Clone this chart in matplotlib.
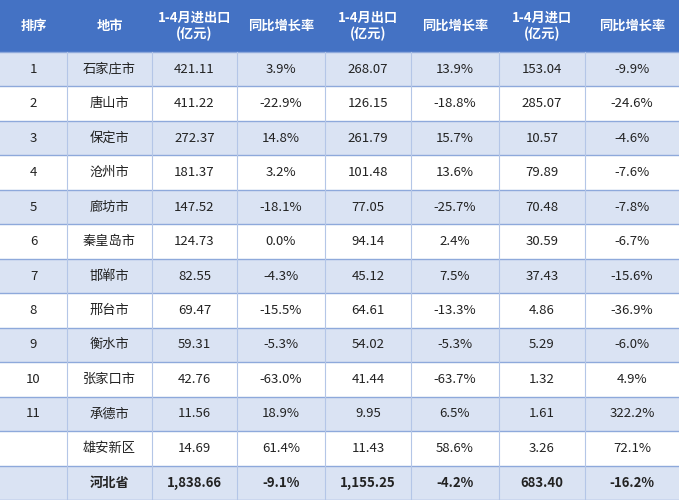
import matplotlib
matplotlib.use("Agg")
import matplotlib.pyplot as plt
from matplotlib.patches import Rectangle

plt.rcParams['font.family'] = ['Noto Sans CJK SC', 'DejaVu Sans']

headers = ["排序", "地市", "1-4月进出口\n(亿元)", "同比增长率", "1-4月出口\n(亿元)",
           "同比增长率", "1-4月进口\n(亿元)", "同比增长率"]
ranks = ["1", "2", "3", "4", "5", "6", "7", "8", "9", "10", "11", "", ""]
cities = ["石家庄市", "唐山市", "保定市", "沧州市", "廊坊市", "秦皇岛市", "邯郸市", "邢台市",
          "衡水市", "张家口市", "承德市", "雄安新区", "河北省"]
total = ["421.11", "411.22", "272.37", "181.37", "147.52", "124.73", "82.55", "69.47",
         "59.31", "42.76", "11.56", "14.69", "1,838.66"]
total_yoy = ["3.9%", "-22.9%", "14.8%", "3.2%", "-18.1%", "0.0%", "-4.3%", "-15.5%",
             "-5.3%", "-63.0%", "18.9%", "61.4%", "-9.1%"]
export = ["268.07", "126.15", "261.79", "101.48", "77.05", "94.14", "45.12", "64.61",
          "54.02", "41.44", "9.95", "11.43", "1,155.25"]
export_yoy = ["13.9%", "-18.8%", "15.7%", "13.6%", "-25.7%", "2.4%", "7.5%", "-13.3%",
              "-5.3%", "-63.7%", "6.5%", "58.6%", "-4.2%"]
imports = ["153.04", "285.07", "10.57", "79.89", "70.48", "30.59", "37.43", "4.86",
           "5.29", "1.32", "1.61", "3.26", "683.40"]
import_yoy = ["-9.9%", "-24.6%", "-4.6%", "-7.6%", "-7.8%", "-6.7%", "-15.6%", "-36.9%",
              "-6.0%", "4.9%", "322.2%", "72.1%", "-16.2%"]

columns = [ranks, cities, total, total_yoy, export, export_yoy, imports, import_yoy]
xs = [0, 67, 152, 237, 325, 411, 499, 585, 679]
W, H = 679, 500
head_h = 52
row_h = (H - head_h) / len(ranks)

fig = plt.figure(figsize=(W / 100, H / 100), dpi=100)
ax = fig.add_axes([0, 0, 1, 1])
ax.set_xlim(0, W)
ax.set_ylim(H, 0)
ax.axis("off")

ax.add_patch(Rectangle((0, 0), W, head_h, color="#4472C4", lw=0))
for j, h in enumerate(headers):
    ax.text((xs[j] + xs[j + 1]) / 2, head_h / 2, h, ha="center", va="center",
            color="white", fontsize=9.5, fontweight="bold", linespacing=1.2)

n = len(ranks)
for i in range(n):
    y0 = head_h + i * row_h
    bg = "#DAE3F3" if i % 2 == 0 else "white"
    ax.add_patch(Rectangle((0, y0), W, row_h, color=bg, lw=0))
    ax.plot([0, W], [y0, y0], color="#8EA9DB", lw=1)
    italic = cities[i] == "雄安新区"
    bold = cities[i] == "河北省"
    for j, col in enumerate(columns):
        ax.text((xs[j] + xs[j + 1]) / 2, y0 + row_h / 2, col[i], ha="center", va="center",
                fontsize=9.5, color="#222222", style="italic" if italic else "normal",
                fontweight="bold" if bold else "normal")
ax.plot([0, W], [H - 0.5, H - 0.5], color="#8EA9DB", lw=1)
for x in xs[1:-1]:
    ax.plot([x, x], [head_h, H], color="#B4C6E7", lw=0.8)

fig.savefig("out.png", dpi=100)
